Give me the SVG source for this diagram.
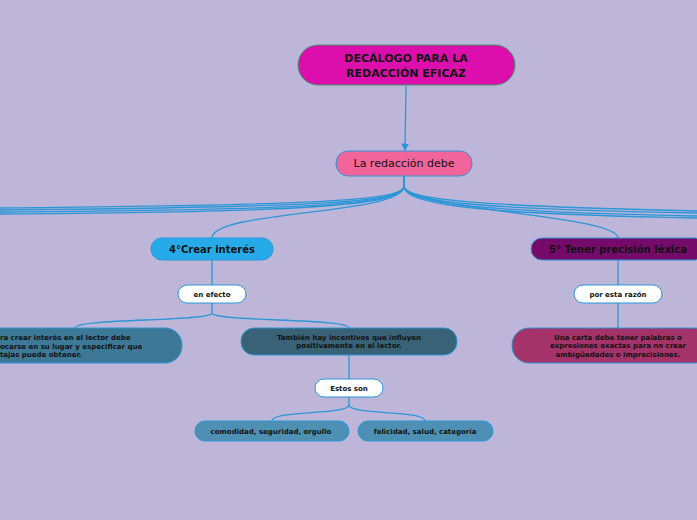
<svg xmlns="http://www.w3.org/2000/svg" width="697" height="520" viewBox="0 0 697 520">
<defs><marker id="ah" markerWidth="6" markerHeight="6" refX="5" refY="3" orient="auto"><path d="M0,0 L6,3 L0,6z" fill="#2a96d8"/></marker></defs>
<style>
.c{fill:none;stroke:#2a96d8;stroke-width:1.3}
text{font-family:"DejaVu Sans",Verdana,sans-serif;font-weight:bold;text-anchor:middle;fill:#111}
.s{font-size:7px}.m{font-size:10px}
</style>
<rect width="697" height="520" fill="#bdb6d9"/>
<g id="connectors">
<path class="c" d="M406,86 L405,150" marker-end="url(#ah)"/>
<path class="c" d="M404,176 V186 C404,200 330,205 0,208"/>
<path class="c" d="M404,176 V186 C404,202 330,207 0,210"/>
<path class="c" d="M404,176 V186 C404,203 330,210 0,212"/>
<path class="c" d="M404,176 V186 C404,204 330,212 0,214"/>
<path class="c" d="M404,186 C404,200 480,206 697,211"/>
<path class="c" d="M404,186 C404,202 480,209 697,213"/>
<path class="c" d="M404,186 C404,203 480,212 697,216"/>
<path class="c" d="M404,186 C404,205 480,214 697,218"/>
<path class="c" d="M404,186 C404,215 212,210 212,238"/>
<path class="c" d="M404,186 C404,210 618,215 618,238"/>
<path class="c" d="M212,260 V285 M212,303 V313 C212,322 75,318 75,328 M212,313 C212,322 349,318 349,328"/>
<path class="c" d="M349,354 V379 M349,397 V405 C349,415 272,410 272,421 M349,405 C349,415 425,410 425,421"/>
<path class="c" d="M618,260 V285 M618,303 V328"/>
</g>
<g id="n0"><rect x="298" y="45" width="217" height="40" rx="20" fill="#dc0fad" stroke="#3a9a6a"/><text class="m" x="406" y="62" style="font-size:11px">DECÁLOGO PARA LA</text><text x="406" y="77" style="font-size:11px">REDACCIÓN EFICAZ</text></g>
<g id="n1"><rect x="336" y="151" width="136" height="25" rx="12" fill="#f2659a" stroke="#2a96d8"/><text x="404" y="167" style="font-size:11px;font-weight:normal">La redacción debe</text></g>
<g id="n2"><rect x="151" y="238" width="122" height="22" rx="11" fill="#27aaea" stroke="#2a96d8"/><text x="212" y="253" class="m">4°Crear interés</text></g>
<g id="n3"><rect x="531" y="238" width="175" height="22" rx="11" fill="#750a6a" stroke="#2a96d8"/><text x="618" y="253" class="m">5° Tener precisión léxica</text></g>
<g id="n4"><rect x="178" y="285" width="68" height="18" rx="9" fill="#fff" stroke="#2a96d8"/><text x="212" y="297" class="s">en efecto</text></g>
<g id="n5"><rect x="574" y="285" width="88" height="18" rx="9" fill="#fff" stroke="#2a96d8"/><text x="618" y="297" class="s">por esta razón</text></g>
<g id="n6"><rect x="-40" y="328" width="222" height="35" rx="17" fill="#3e7897" stroke="#2a96d8"/><text x="60" y="340" class="s" style="text-anchor:start" dx="-60">ra crear interés en el lector debe</text><text x="0" y="349" class="s" style="text-anchor:start">ocarse en su lugar y especificar que</text><text x="0" y="357" class="s" style="text-anchor:start">tajas puede obtener.</text></g>
<g id="n7"><rect x="241" y="328" width="216" height="27" rx="13" fill="#396277" stroke="#2a96d8"/><text x="349" y="340" class="s">También hay incentivos  que influyen</text><text x="349" y="348" class="s">positivamente en el lector.</text></g>
<g id="n8"><rect x="512" y="328" width="200" height="35" rx="17" fill="#a4336a" stroke="#2a96d8"/><text x="618" y="340" class="s">Una carta debe tener palabras o</text><text x="618" y="348" class="s">expresiones exactas para no crear</text><text x="618" y="357" class="s">ambigüedades o imprecisiones.</text></g>
<g id="n9"><rect x="315" y="379" width="68" height="18" rx="9" fill="#fff" stroke="#2a96d8"/><text x="349" y="391" class="s">Estos son</text></g>
<g id="n10"><rect x="195" y="421" width="154" height="20" rx="10" fill="#4e90b4" stroke="#2a96d8"/><text x="271" y="434" class="s">comodidad, seguridad, orgullo</text></g>
<g id="n11"><rect x="358" y="421" width="135" height="20" rx="10" fill="#4e90b4" stroke="#2a96d8"/><text x="425" y="434" class="s">felicidad, salud, categoría</text></g>
</svg>
